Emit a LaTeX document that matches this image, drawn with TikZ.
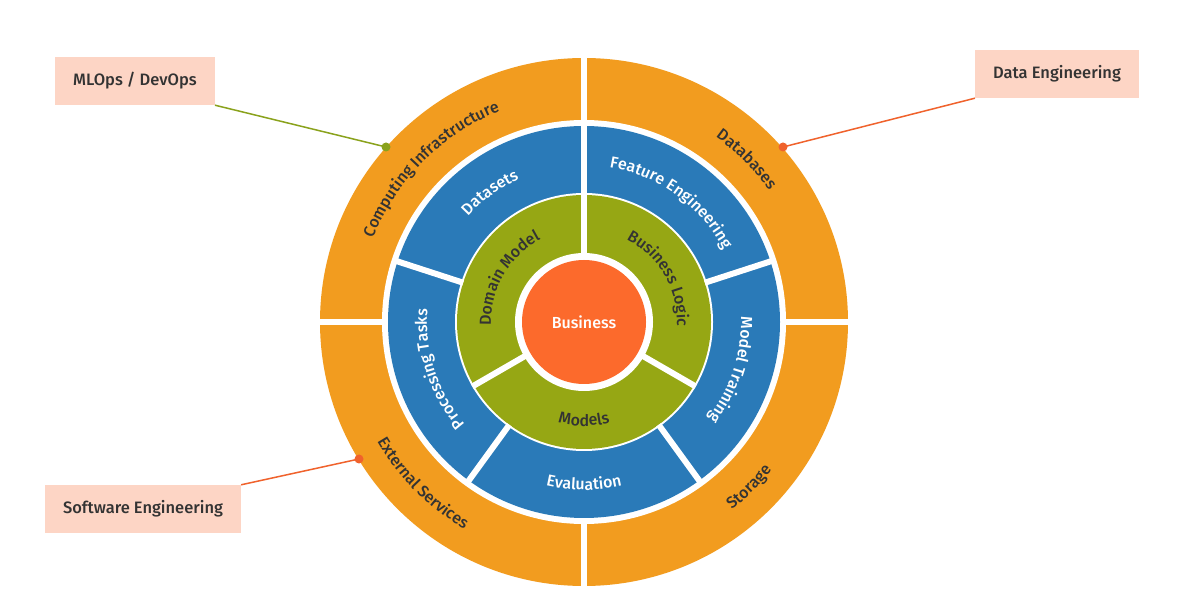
\documentclass[tikz,border=0pt]{standalone}
\usepackage{fontspec}
\setmainfont{Fira Sans}[UprightFont=* Medium]
\usetikzlibrary{decorations.text}
\definecolor{orng}{HTML}{F29C1F}
\definecolor{blu}{HTML}{2A7AB8}
\definecolor{grn}{HTML}{96A714}
\definecolor{ctr}{HTML}{FC6A2C}
\definecolor{lbl}{HTML}{FDD5C5}
\definecolor{lgrn}{HTML}{8AA21C}
\definecolor{lred}{HTML}{F0622C}
\definecolor{dk}{HTML}{333333}
\tikzset{
 gap/.style={white,line width=6pt},
 lab/.style={fill=lbl,font=\fontsize{16.5}{18}\selectfont,text=dk,minimum height=48pt,inner xsep=18pt},
 dotc/.style={circle,inner sep=0pt,minimum size=9pt},
 arctext/.style={decorate,decoration={text along path,text align=center,text={#1}}},
}
\newcommand{\cwtext}[5]{% radius, start, end, color, text
 \path[arctext={#5},decoration={text color=#4}] (C) ++(#2:#1) arc (#2:#3:#1);}
\begin{document}
\begin{tikzpicture}[x=1pt,y=1pt]
\useasboundingbox (0,0) rectangle (1200,600);
\fill[white] (0,0) rectangle (1200,600);
\coordinate (C) at (584,278);
% rings
\fill[orng] (C) circle (264);
\fill[white] (C) circle (202);
\fill[blu] (C) circle (196);
\fill[white] (C) circle (129);
\fill[grn] (C) circle (127);
\fill[white] (C) circle (69);
\node[circle,fill=ctr,minimum size=124pt,inner sep=0pt,text=white,font=\fontsize{16}{18}\selectfont] (B) at (C) {Business};
% orange splits
\foreach \a in {0,90,180,270} \draw[gap] (C) ++(\a:199) -- ++(\a:70);
% blue splits
\foreach \a in {90,18,-54,-126,162} \draw[gap] (C) ++(\a:127) -- ++(\a:71);
% green splits
\foreach \a in {90,-30,210} \draw[gap] (C) ++(\a:66) -- ++(\a:63);
\begingroup\fontsize{16}{18}\selectfont
% orange texts
\cwtext{227}{175}{95}{dk}{Computing Infrastructure}
\cwtext{227}{85}{5}{dk}{Databases}
\cwtext{239}{-175}{-95}{dk}{External Services}
\cwtext{239}{-85}{-5}{dk}{Storage}
% blue texts
\cwtext{157}{160}{92}{white}{Datasets}
\cwtext{157}{88}{20}{white}{Feature Engineering}
\cwtext{157}{16}{-52}{white}{Model Training}
\cwtext{168}{-124}{-56}{white}{Evaluation}
\cwtext{157}{232}{164}{white}{Processing Tasks}
% green texts
\cwtext{93}{205}{95}{dk}{Domain Model}
\cwtext{93}{85}{-25}{dk}{Business Logic}
\cwtext{104}{-145}{-35}{dk}{Models}
\endgroup
% labels
\node[lab] (m) at (135,519) {MLOps / DevOps};
\node[lab] (d) at (1057,526) {Data Engineering};
\node[lab] (s) at (143,91) {Software Engineering};
\node[dotc,fill=lgrn] (dm) at (386,453) {};
\node[dotc,fill=lred] (dd) at (783,453) {};
\node[dotc,fill=lred] (ds) at (359,141) {};
\draw[lgrn,line width=1.5pt] (m.south east) -- (dm.center);
\draw[lred,line width=1.5pt] (d.south west) -- (dd.center);
\draw[lred,line width=1.5pt] (s.north east) -- (ds.center);
\end{tikzpicture}
\end{document}
